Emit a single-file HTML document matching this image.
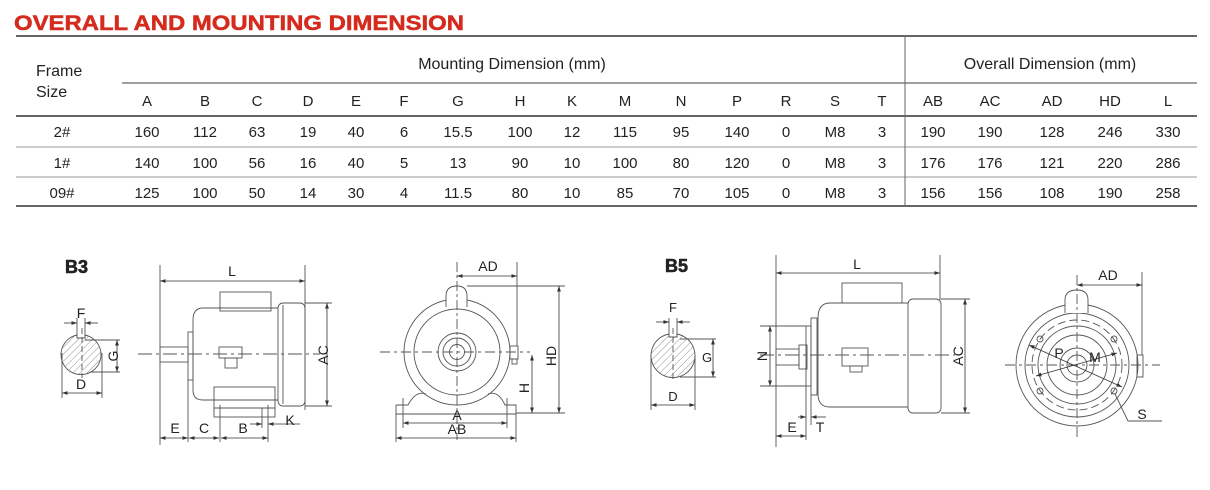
<!DOCTYPE html>
<html><head><meta charset="utf-8"><style>
html,body{margin:0;padding:0;background:#fff;}
svg{display:block;font-family:"Liberation Sans",Arial,sans-serif;}
</style></head><body>
<svg width="1210" height="490" viewBox="0 0 1210 490" xmlns="http://www.w3.org/2000/svg">
<defs>
<marker id="ar" viewBox="0 0 10 10" refX="10" refY="5" markerWidth="7" markerHeight="7" orient="auto-start-reverse"><path d="M0,1.5 L10,5 L0,8.5 z" fill="#333"/></marker>
<pattern id="hatch" width="5" height="5" patternUnits="userSpaceOnUse" patternTransform="rotate(45)"><line x1="0" y1="0" x2="0" y2="5" stroke="#777" stroke-width="0.8"/></pattern>
</defs>
<text x="14" y="30" font-size="21" font-weight="bold" fill="#d52b1e" stroke="#d52b1e" stroke-width="0.5" textLength="450" lengthAdjust="spacingAndGlyphs">OVERALL AND MOUNTING DIMENSION</text>
<g stroke="#666" fill="none">
<line x1="16" y1="36" x2="1197" y2="36" stroke-width="2"/>
<line x1="122" y1="83" x2="1197" y2="83" stroke-width="1.3"/>
<line x1="16" y1="116" x2="1197" y2="116" stroke-width="2"/>
<line x1="16" y1="147" x2="1197" y2="147" stroke-width="1" stroke="#999"/>
<line x1="16" y1="177" x2="1197" y2="177" stroke-width="1" stroke="#999"/>
<line x1="16" y1="206" x2="1197" y2="206" stroke-width="2"/>
<line x1="905" y1="36" x2="905" y2="206" stroke-width="1"/>
</g>
<g font-size="16" fill="#222" text-anchor="middle">
<text x="36" y="76" text-anchor="start">Frame</text>
<text x="36" y="97" text-anchor="start">Size</text>
<text x="512" y="69">Mounting Dimension  (mm)</text>
<text x="1050" y="69">Overall Dimension  (mm)</text>
</g>
<g font-size="15" fill="#222" text-anchor="middle">
<g transform="translate(0,106)">
<text x="147">A</text><text x="205">B</text><text x="257">C</text><text x="308">D</text><text x="356">E</text><text x="404">F</text><text x="458">G</text><text x="520">H</text><text x="572">K</text><text x="625">M</text><text x="681">N</text><text x="737">P</text><text x="786">R</text><text x="835">S</text><text x="882">T</text><text x="933">AB</text><text x="990">AC</text><text x="1052">AD</text><text x="1110">HD</text><text x="1168">L</text>
</g>
<g transform="translate(0,137)">
<text x="62">2#</text><text x="147">160</text><text x="205">112</text><text x="257">63</text><text x="308">19</text><text x="356">40</text><text x="404">6</text><text x="458">15.5</text><text x="520">100</text><text x="572">12</text><text x="625">115</text><text x="681">95</text><text x="737">140</text><text x="786">0</text><text x="835">M8</text><text x="882">3</text><text x="933">190</text><text x="990">190</text><text x="1052">128</text><text x="1110">246</text><text x="1168">330</text>
</g>
<g transform="translate(0,168)">
<text x="62">1#</text><text x="147">140</text><text x="205">100</text><text x="257">56</text><text x="308">16</text><text x="356">40</text><text x="404">5</text><text x="458">13</text><text x="520">90</text><text x="572">10</text><text x="625">100</text><text x="681">80</text><text x="737">120</text><text x="786">0</text><text x="835">M8</text><text x="882">3</text><text x="933">176</text><text x="990">176</text><text x="1052">121</text><text x="1110">220</text><text x="1168">286</text>
</g>
<g transform="translate(0,198)">
<text x="62">09#</text><text x="147">125</text><text x="205">100</text><text x="257">50</text><text x="308">14</text><text x="356">30</text><text x="404">4</text><text x="458">11.5</text><text x="520">80</text><text x="572">10</text><text x="625">85</text><text x="681">70</text><text x="737">105</text><text x="786">0</text><text x="835">M8</text><text x="882">3</text><text x="933">156</text><text x="990">156</text><text x="1052">108</text><text x="1110">190</text><text x="1168">258</text>
</g>
</g>

<!-- B3 -->
<text x="65" y="273" font-size="18" font-weight="bold" fill="#222" stroke="#222" stroke-width="0.6">B3</text>
<g stroke="#555" stroke-width="0.9" fill="none">
<path d="M77,335 A20,20 0 1 0 85,335 L85,338 L77,338 Z" fill="url(#hatch)"/>
<line x1="77" y1="318" x2="77" y2="338"/><line x1="85" y1="318" x2="85" y2="338"/>
<line x1="82" y1="328" x2="82" y2="378" stroke-dasharray="6 3"/>
<line x1="62" y1="353" x2="62" y2="398"/><line x1="102" y1="353" x2="102" y2="398"/>
<line x1="85" y1="340" x2="120" y2="340"/><line x1="90" y1="372" x2="120" y2="372"/>
</g>
<g stroke="#333" stroke-width="0.8" fill="none">
<line x1="64" y1="323" x2="77" y2="323" marker-end="url(#ar)"/><line x1="98" y1="323" x2="85" y2="323" marker-end="url(#ar)"/>
<line x1="62" y1="393" x2="102" y2="393" marker-start="url(#ar)" marker-end="url(#ar)"/>
<line x1="117" y1="340" x2="117" y2="372" marker-start="url(#ar)" marker-end="url(#ar)"/>
</g>
<g font-size="14" fill="#222" text-anchor="middle">
<text x="81" y="318">F</text><text x="81" y="389">D</text>
<text transform="translate(118,356) rotate(-90)">G</text>
</g>
<!-- B3 side view -->
<g stroke="#555" stroke-width="0.9" fill="none">
<line x1="160" y1="265" x2="160" y2="445"/><line x1="305" y1="265" x2="305" y2="410"/>
<path d="M278,308 L203,308 Q193,308 193,320 L193,390 Q193,400 203,400 L278,400"/>
<rect x="278" y="303" width="27" height="103" rx="5"/>
<line x1="283" y1="305" x2="283" y2="404"/>
<rect x="220" y="292" width="51" height="19"/>
<rect x="188" y="332" width="5" height="48"/>
<rect x="160" y="347" width="28" height="15"/>
<rect x="219" y="347" width="23" height="11"/><rect x="225" y="358" width="12" height="10"/>
<rect x="214" y="387" width="61" height="21"/><rect x="214" y="408" width="61" height="9"/>
<line x1="220" y1="405" x2="220" y2="442"/><line x1="268" y1="405" x2="268" y2="442"/><line x1="188" y1="380" x2="188" y2="442"/>
<line x1="262" y1="408" x2="262" y2="428"/>
<line x1="305" y1="303" x2="332" y2="303"/><line x1="305" y1="406" x2="332" y2="406"/>
<line x1="138" y1="354" x2="320" y2="354" stroke-dasharray="14 4 3 4"/>
</g>
<g stroke="#333" stroke-width="0.8" fill="none">
<line x1="160" y1="281" x2="305" y2="281" marker-start="url(#ar)" marker-end="url(#ar)"/>
<line x1="327" y1="303" x2="327" y2="406" marker-start="url(#ar)" marker-end="url(#ar)"/>
<line x1="160" y1="438" x2="188" y2="438" marker-start="url(#ar)" marker-end="url(#ar)"/>
<line x1="189" y1="438" x2="219" y2="438" marker-start="url(#ar)" marker-end="url(#ar)"/>
<line x1="221" y1="438" x2="268" y2="438" marker-start="url(#ar)" marker-end="url(#ar)"/>
<line x1="250" y1="424" x2="262" y2="424" marker-end="url(#ar)"/><line x1="300" y1="424" x2="268" y2="424" marker-end="url(#ar)"/>
</g>
<g font-size="14" fill="#222" text-anchor="middle">
<text x="232" y="276">L</text><text x="175" y="433">E</text><text x="204" y="433">C</text><text x="243" y="433">B</text><text x="290" y="425">K</text>
<text transform="translate(328,355) rotate(-90)">AC</text>
</g>
<!-- B3 front view -->
<g stroke="#555" stroke-width="0.9" fill="none">
<circle cx="457" cy="352" r="53"/><circle cx="457" cy="352" r="43"/>
<circle cx="457" cy="352" r="19"/><circle cx="457" cy="352" r="14"/><circle cx="457" cy="352" r="7.5"/>
<path d="M446,307 L446,296 Q446,286 457,286 Q467,286 467,296 L467,307" fill="#fff"/>
<path d="M396,405 L396,414 L516,414 L516,405 L505,405 Q498,390 488,394 M396,405 L408,405 Q416,390 426,394"/>
<line x1="403" y1="398" x2="403" y2="428"/><line x1="507" y1="398" x2="507" y2="428"/>
<line x1="396" y1="414" x2="396" y2="442"/><line x1="516" y1="414" x2="516" y2="442"/>
<rect x="510" y="346" width="8" height="13"/><rect x="512" y="359" width="5" height="5"/>
<line x1="517" y1="262" x2="517" y2="346"/><line x1="457" y1="262" x2="457" y2="440" stroke-dasharray="10 3 3 3"/>
<line x1="380" y1="352" x2="530" y2="352" stroke-dasharray="10 4 3 4"/>
<line x1="467" y1="286" x2="565" y2="286"/><line x1="516" y1="413" x2="565" y2="413"/>
</g>
<g stroke="#333" stroke-width="0.8" fill="none">
<line x1="457" y1="276" x2="517" y2="276" marker-start="url(#ar)" marker-end="url(#ar)"/>
<line x1="559" y1="286" x2="559" y2="413" marker-start="url(#ar)" marker-end="url(#ar)"/>
<line x1="532" y1="355" x2="532" y2="413" marker-start="url(#ar)" marker-end="url(#ar)"/>
<line x1="403" y1="423" x2="507" y2="423" marker-start="url(#ar)" marker-end="url(#ar)"/>
<line x1="396" y1="438" x2="516" y2="438" marker-start="url(#ar)" marker-end="url(#ar)"/>
</g>
<g font-size="14" fill="#222" text-anchor="middle">
<text x="488" y="271">AD</text><text x="457" y="420">A</text><text x="457" y="434">AB</text>
<text transform="translate(556,356) rotate(-90)">HD</text>
<text transform="translate(529,388) rotate(-90)">H</text>
</g>

<!-- B5 -->
<text x="665" y="272" font-size="18" font-weight="bold" fill="#222" stroke="#222" stroke-width="0.6">B5</text>
<g stroke="#555" stroke-width="0.9" fill="none">
<path d="M669,334 A22,22 0 1 0 677,334 L677,337 L669,337 Z" fill="url(#hatch)"/>
<line x1="669" y1="318" x2="669" y2="337"/><line x1="677" y1="318" x2="677" y2="337"/>
<line x1="673" y1="328" x2="673" y2="380" stroke-dasharray="6 3"/>
<line x1="651" y1="355" x2="651" y2="410"/><line x1="695" y1="355" x2="695" y2="410"/>
<line x1="680" y1="339" x2="716" y2="339"/><line x1="680" y1="377" x2="716" y2="377"/>
</g>
<g stroke="#333" stroke-width="0.8" fill="none">
<line x1="656" y1="322" x2="669" y2="322" marker-end="url(#ar)"/><line x1="690" y1="322" x2="677" y2="322" marker-end="url(#ar)"/>
<line x1="651" y1="405" x2="695" y2="405" marker-start="url(#ar)" marker-end="url(#ar)"/>
<line x1="713" y1="339" x2="713" y2="377" marker-start="url(#ar)" marker-end="url(#ar)"/>
</g>
<g font-size="13" fill="#222" text-anchor="middle">
<text x="673" y="312">F</text><text x="673" y="401">D</text><text x="707" y="362">G</text>
</g>
<!-- B5 side -->
<g stroke="#555" stroke-width="0.9" fill="none">
<line x1="776" y1="255" x2="776" y2="447"/><line x1="940" y1="255" x2="940" y2="300"/>
<path d="M908,303 L830,303 Q818,303 818,318 L818,394 Q818,407 830,407 L908,407"/>
<rect x="908" y="299" width="33" height="114" rx="5"/>
<rect x="842" y="283" width="60" height="20"/>
<rect x="811" y="318" width="6" height="77"/><rect x="806" y="326" width="5" height="60"/>
<rect x="799" y="345" width="8" height="24"/><rect x="776" y="349" width="23" height="16"/>
<rect x="842" y="348" width="26" height="18"/><rect x="850" y="366" width="12" height="6"/>
<line x1="760" y1="326" x2="806" y2="326"/><line x1="760" y1="386" x2="806" y2="386"/>
<line x1="806" y1="386" x2="806" y2="440"/><line x1="811" y1="395" x2="811" y2="425"/>
<line x1="941" y1="299" x2="970" y2="299"/><line x1="941" y1="413" x2="970" y2="413"/>
<line x1="760" y1="355" x2="955" y2="355" stroke-dasharray="14 4 3 4"/>
</g>
<g stroke="#333" stroke-width="0.8" fill="none">
<line x1="776" y1="273" x2="940" y2="273" marker-start="url(#ar)" marker-end="url(#ar)"/>
<line x1="770" y1="326" x2="770" y2="386" marker-start="url(#ar)" marker-end="url(#ar)"/>
<line x1="965" y1="299" x2="965" y2="413" marker-start="url(#ar)" marker-end="url(#ar)"/>
<line x1="776" y1="436" x2="806" y2="436" marker-start="url(#ar)" marker-end="url(#ar)"/>
<line x1="798" y1="417" x2="806" y2="417" marker-end="url(#ar)"/><line x1="826" y1="417" x2="811" y2="417" marker-end="url(#ar)"/>
</g>
<g font-size="14" fill="#222" text-anchor="middle">
<text x="857" y="269">L</text><text x="792" y="432">E</text><text x="820" y="432">T</text>
<text transform="translate(767,356) rotate(-90)">N</text>
<text transform="translate(963,356) rotate(-90)">AC</text>
</g>
<!-- B5 front -->
<g stroke="#555" stroke-width="0.9" fill="none">
<circle cx="1077" cy="365" r="61"/><circle cx="1077" cy="365" r="52"/>
<circle cx="1077" cy="365" r="45" stroke-dasharray="8 4"/><circle cx="1077" cy="365" r="39"/>
<circle cx="1077" cy="365" r="30"/><circle cx="1077" cy="365" r="17"/><circle cx="1077" cy="365" r="10"/>
<path d="M1065,313 L1065,300 Q1065,290 1077,290 Q1088,290 1088,300 L1088,313" fill="#fff"/>
<circle cx="1040" cy="339" r="3"/><circle cx="1114" cy="339" r="3"/><circle cx="1040" cy="391" r="3"/><circle cx="1114" cy="391" r="3"/>
<rect x="1137" y="355" width="6" height="22"/>
<line x1="1142" y1="272" x2="1142" y2="355"/>
<line x1="1077" y1="275" x2="1077" y2="440" stroke-dasharray="10 3 3 3"/>
<line x1="1005" y1="365" x2="1160" y2="365" stroke-dasharray="10 4 3 4"/>
<polyline points="1115,394 1128,421 1162,421"/>
</g>
<g stroke="#333" stroke-width="0.8" fill="none">
<line x1="1077" y1="285" x2="1142" y2="285" marker-start="url(#ar)" marker-end="url(#ar)"/>
<line x1="1029" y1="345" x2="1122" y2="387" marker-start="url(#ar)" marker-end="url(#ar)"/>
<line x1="1036" y1="376" x2="1117" y2="353" marker-start="url(#ar)" marker-end="url(#ar)"/>
</g>
<g font-size="14" fill="#222" text-anchor="middle">
<text x="1108" y="280">AD</text><text x="1059" y="358">P</text><text x="1095" y="362">M</text><text x="1142" y="419">S</text>
</g>
</svg>
</body></html>
